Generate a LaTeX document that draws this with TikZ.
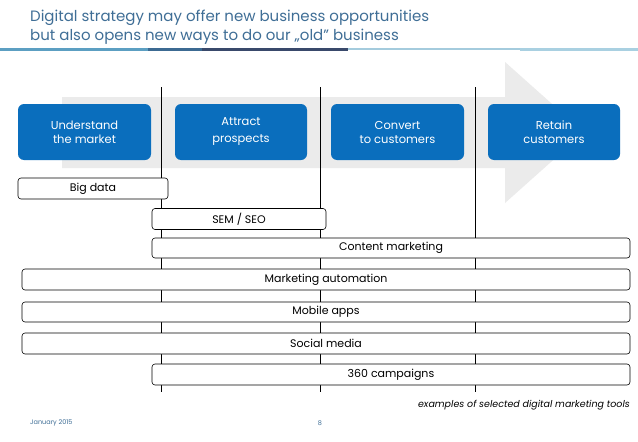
\documentclass[tikz,border=0pt]{standalone}
\usepackage{fontspec}
\setmainfont{Poppins}
\begin{document}
\begin{tikzpicture}[x=1pt,y=-1pt,
  phase/.style={fill=phaseblue,rounded corners=6pt,text=white,font=\fontsize{11.5}{14}\selectfont,align=center,inner sep=0pt},
  tool/.style={draw=black,line width=0.6pt,rounded corners=3pt,fill=white,font=\fontsize{11}{12}\selectfont,inner sep=0pt},
  vline/.style={line width=0.6pt}]
\definecolor{phaseblue}{HTML}{0A6EBD}
\definecolor{titleblue}{HTML}{3F6E96}
\definecolor{arrowgrey}{HTML}{EBEBEB}
\definecolor{ba}{HTML}{5C9FC2}
\definecolor{bb}{HTML}{3C6A92}
\definecolor{bc}{HTML}{39496B}
\definecolor{bd}{HTML}{A4CBDD}
\definecolor{be}{HTML}{A9D0E1}
\useasboundingbox (0,0) rectangle (638,442);
\fill[white] (0,0) rectangle (638,442);
\node[anchor=north west,text=titleblue,align=left,font=\fontsize{15}{19}\selectfont,inner sep=0pt] (title) at (30,10) {Digital strategy may offer new business opportunities\\but also opens new ways to do our „old” business};
\fill[ba] (0,47.5) rectangle (148,50.5);
\fill[bb] (148,47.5) rectangle (202,50.5);
\fill[bc] (202,47.5) rectangle (348,50.5);
\fill[bd] (348,48) rectangle (520,50);
\fill[be] (520,47.5) rectangle (638,50.5);
\fill[arrowgrey] (62,97) -- (505,97) -- (505,62) -- (584,132.5) -- (505,203) -- (505,168) -- (62,168) -- cycle;
\coordinate (t1) at (161,87); \coordinate (b1) at (161,392);
\coordinate (t2) at (320,87); \coordinate (b2) at (320,392);
\coordinate (t3) at (475,87); \coordinate (b3) at (475,392);
\draw[vline] (t1) -- (b1); \draw[vline] (t2) -- (b2); \draw[vline] (t3) -- (b3);
\node[phase,minimum width=133,minimum height=56] (p1) at (84.5,132) {Understand\\the market};
\node[phase,minimum width=132,minimum height=56] (p2) at (241,132) {Attract\\[3pt]prospects};
\node[phase,minimum width=133,minimum height=56] (p3) at (397.5,132) {Convert\\to customers};
\node[phase,minimum width=132,minimum height=56] (p4) at (554,132) {Retain\\customers};
\node[tool,minimum width=150,minimum height=21] (bdt) at (93,188.5) {Big data};
\node[tool,minimum width=174,minimum height=21] (sem) at (239,219) {SEM / SEO};
\node[tool,minimum width=478,minimum height=20] (cm) at (391,248) {Content marketing};
\node[tool,minimum width=608,minimum height=21] (ma) at (326,279.5) {Marketing automation};
\node[tool,minimum width=608,minimum height=20] (ms) at (326,312) {Mobile apps};
\node[tool,minimum width=608,minimum height=21] (sm) at (326,343.5) {Social media};
\node[tool,minimum width=478,minimum height=21] (c360) at (391,374.5) {360 campaigns};
\node[anchor=east,font=\fontsize{9.5}{11}\itshape,inner sep=0pt] (ex) at (630,405) {examples of selected digital marketing tools};
\node[anchor=west,text=titleblue,font=\fontsize{6.5}{7}\selectfont,inner sep=0pt] (date) at (30,423) {January 2015};
\node[text=titleblue,font=\fontsize{6.5}{7}\selectfont,inner sep=0pt] (pg) at (320,423) {8};
\end{tikzpicture}
\end{document}
